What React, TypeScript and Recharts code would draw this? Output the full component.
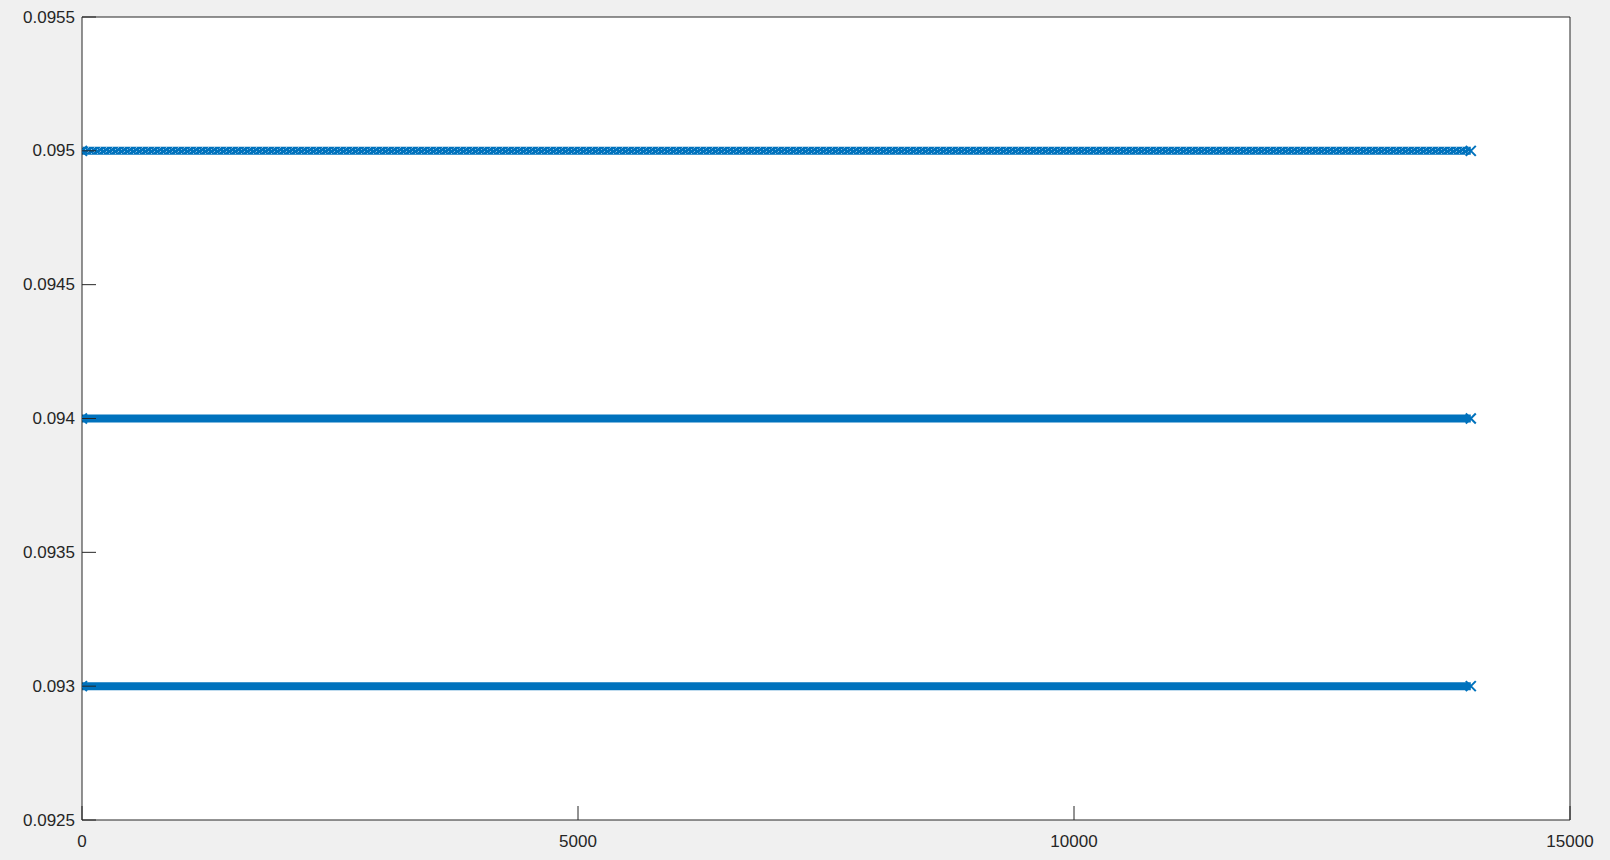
import { LineChart, Line, XAxis, YAxis } from "recharts";

// three plateau levels, sampled from 0 up to about 14000
const levels = [0.095, 0.094, 0.093];
const xSpan = [0, 14000];
const xTicks = [0, 5000, 10000, 15000];
const yTicks = [0.0925, 0.093, 0.0935, 0.094, 0.0945, 0.095, 0.0955];
const yLabels = ["0.0925", "0.093", "0.0935", "0.094", "0.0945", "0.095", "0.0955"];

const BLUE = "#0072BD";
const INK = "#262626";
const FONT = "'Liberation Sans', Arial, sans-serif";

const LeftTick = (props: any) => {
  const { x, y, index } = props;
  return (
    <g>
      <line x1={x + 7} x2={x + 21} y1={y} y2={y} stroke={INK} strokeWidth={1} />
      <text x={x} y={y} textAnchor="end" dominantBaseline="central" fill={INK} fontSize={17} fontFamily={FONT}>
        {yLabels[index]}
      </text>
    </g>
  );
};

const RightTick = (props: any) => {
  const { x, y } = props;
  return <line x1={x - 14} x2={x} y1={y} y2={y} stroke={INK} strokeWidth={1} />;
};

const TopTick = (props: any) => {
  const { x, y } = props;
  return <line x1={x} x2={x} y1={y} y2={y + 14} stroke={INK} strokeWidth={1} />;
};

const BottomTick = (props: any) => {
  const { x, y, payload } = props;
  return (
    <g>
      <line x1={x} x2={x} y1={y - 14} y2={y} stroke={INK} strokeWidth={1} />
      <text x={x} y={y + 21} textAnchor="middle" dominantBaseline="central" fill={INK} fontSize={17} fontFamily={FONT}>
        {payload.value}
      </text>
    </g>
  );
};

const CrossDot = (props: any) => {
  const { cx, cy } = props;
  if (cx == null || cy == null) return null;
  return (
    <g>
      <line x1={cx - 5} y1={cy - 5} x2={cx + 5} y2={cy + 5} stroke={BLUE} strokeWidth={2} />
      <line x1={cx - 5} y1={cy + 5} x2={cx + 5} y2={cy - 5} stroke={BLUE} strokeWidth={2} />
    </g>
  );
};

export default function App() {
  return (
    <div style={{ position: "fixed", left: 0, top: 0, width: 1610, height: 860, background: "#f0f0f0" }}>
      <LineChart
        width={1610}
        height={860}
        margin={{ top: 7, right: 20, bottom: 10, left: 22 }}
        style={{ background: "#f0f0f0" }}
      >
        <defs>
          {/* sparse crosses leave a lighter, hatched look on the top level */}
          <pattern id="hatch" width="6" height="4" patternUnits="userSpaceOnUse">
            <rect width="6" height="4" fill={BLUE} />
            <rect x="1" y="1" width="1" height="1" fill="#8fc0e3" />
            <rect x="4" y="3" width="1" height="1" fill="#8fc0e3" />
            <rect x="3" y="0" width="1" height="1" fill="#4a93cc" />
          </pattern>
        </defs>
        <rect x={82} y={17} width={1488} height={803} fill="#ffffff" />
        <XAxis
          dataKey="x"
          type="number"
          domain={[0, 15000]}
          ticks={xTicks}
          height={30}
          tickSize={0}
          tickMargin={0}
          tick={<BottomTick />}
          axisLine={{ stroke: INK }}
          interval={0}
          allowDataOverflow
        />
        <XAxis
          xAxisId="top"
          orientation="top"
          type="number"
          domain={[0, 15000]}
          ticks={xTicks}
          height={10}
          tickSize={0}
          tickMargin={0}
          tick={<TopTick />}
          axisLine={{ stroke: INK }}
          interval={0}
        />
        <YAxis
          type="number"
          domain={[0.0925, 0.0955]}
          ticks={yTicks}
          width={60}
          tickSize={0}
          tickMargin={7}
          tick={<LeftTick />}
          axisLine={{ stroke: INK }}
          interval={0}
          allowDataOverflow
        />
        <YAxis
          yAxisId="right"
          orientation="right"
          type="number"
          domain={[0.0925, 0.0955]}
          ticks={yTicks}
          width={20}
          tickSize={0}
          tickMargin={0}
          tick={<RightTick />}
          axisLine={{ stroke: INK }}
          interval={0}
        />
        {levels.map((lv, i) => (
          <Line
            key={lv}
            data={xSpan.map((x) => ({ x, y: lv }))}
            dataKey="y"
            type="linear"
            stroke={i === 0 ? "url(#hatch)" : BLUE}
            strokeWidth={8}
            strokeLinecap="butt"
            dot={<CrossDot />}
            activeDot={false}
            isAnimationActive={false}
          />
        ))}
      </LineChart>
    </div>
  );
}
